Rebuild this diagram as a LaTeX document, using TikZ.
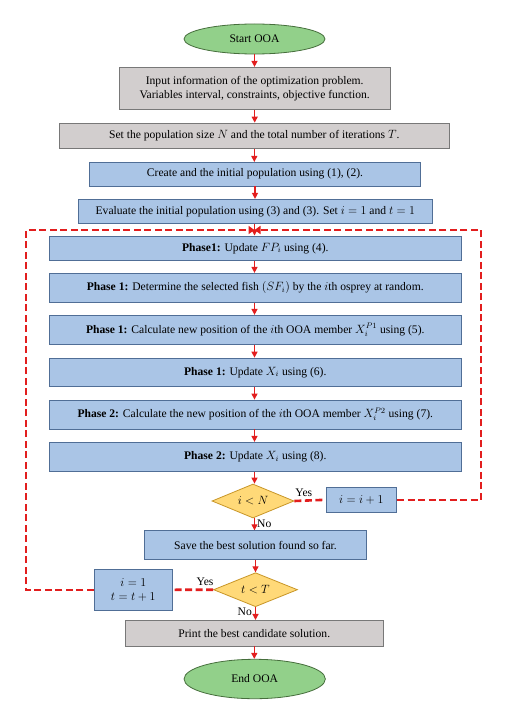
\documentclass[tikz,border=0pt]{standalone}
\usepackage{fontspec}
\setmainfont{Liberation Serif}
\usetikzlibrary{shapes.geometric,arrows.meta}
\definecolor{bfill}{RGB}{170,197,230}
\definecolor{bdraw}{RGB}{80,110,150}
\definecolor{gfill}{RGB}{210,206,206}
\definecolor{gdraw}{RGB}{120,120,120}
\definecolor{grfill}{RGB}{146,208,138}
\definecolor{grdraw}{RGB}{70,110,60}
\definecolor{yfill}{RGB}{255,217,120}
\definecolor{ydraw}{RGB}{200,150,40}
\definecolor{redc}{RGB}{226,30,30}
\tikzset{
  fnt/.style={font=\fontsize{11.6}{13.8}\selectfont},
  box/.style={rectangle,inner sep=0pt,line width=0.8pt,align=center,fnt},
  bluebox/.style={box,fill=bfill,draw=bdraw},
  graybox/.style={box,fill=gfill,draw=gdraw},
  term/.style={ellipse,inner sep=0pt,fill=grfill,draw=grdraw,line width=0.8pt,fnt},
  decide/.style={diamond,inner sep=0pt,aspect=2.4,fill=yfill,draw=ydraw,line width=0.8pt,fnt},
  arr/.style={draw=redc,line width=1.3pt,-{Triangle[length=6pt,width=6pt]}},
  loop/.style={draw=redc,line width=2.6pt,dash pattern=on 7pt off 3.5pt},
  loopar/.style={loop,-{Triangle[length=6pt,width=8pt]}},
  lbl/.style={fnt,inner sep=0pt}
}
\begin{document}
\begin{tikzpicture}[x=1pt,y=-1pt]
\useasboundingbox (0,0) rectangle (504,706);
\node[term,minimum width=141pt,minimum height=30pt] (start) at (254.5,39) {Start OOA};
\node[graybox,minimum width=271pt,minimum height=42pt] (input) at (254.7,88.3) {Input information of the optimization problem.\\Variables interval, constraints, objective function.};
\node[graybox,minimum width=390pt,minimum height=25.7pt] (setp) at (254.3,135.9) {Set the population size $N$ and the total number of iterations $T$.};
\node[bluebox,minimum width=331.4pt,minimum height=23.7pt] (create) at (255,174.2) {Create and the initial population using (1), (2).};
\node[bluebox,minimum width=354.7pt,minimum height=24pt] (eval) at (255.3,211.3) {Evaluate the initial population using (3) and (3). Set $i=1$ and $t=1$};
\node[bluebox,minimum width=412.7pt,minimum height=24.7pt] (p1) at (255.3,248.3) {\textbf{Phase1:} Update $FP_i$ using (4).};
\node[bluebox,minimum width=412.7pt,minimum height=29pt] (p2) at (255.3,287.8) {\textbf{Phase 1:} Determine the selected fish $(SF_i)$ by the $i$th osprey at random.};
\node[bluebox,minimum width=412.7pt,minimum height=29pt] (p3) at (255.3,329.8) {\textbf{Phase 1:} Calculate new position of the $i$th OOA member $X_i^{P1}$ using (5).};
\node[bluebox,minimum width=412.7pt,minimum height=28.3pt] (p4) at (255.3,372.2) {\textbf{Phase 1:} Update $X_i$ using (6).};
\node[bluebox,minimum width=412.7pt,minimum height=29pt] (p5) at (255.3,414.5) {\textbf{Phase 2:} Calculate the new position of the $i$th OOA member $X_i^{P2}$ using (7).};
\node[bluebox,minimum width=412.7pt,minimum height=29.4pt] (p6) at (255.3,457) {\textbf{Phase 2:} Update $X_i$ using (8).};
\node[decide,minimum width=82pt,minimum height=34pt] (dN) at (253,501) {$i<N$};
\node[bluebox,minimum width=70.7pt,minimum height=25pt] (inc) at (361.3,499.8) {$i=i+1$};
\node[bluebox,minimum width=222.4pt,minimum height=28.6pt] (save) at (255.5,545) {Save the best solution found so far.};
\node[decide,minimum width=84pt,minimum height=34pt] (dT) at (255.5,589.7) {$t<T$};
\node[bluebox,minimum width=78pt,minimum height=41pt] (reset) at (133.3,589.8) {$i=1$\\$t=t+1$};
\node[graybox,minimum width=258pt,minimum height=25.7pt] (print) at (254.3,633.2) {Print the best candidate solution.};
\node[term,minimum width=141.3pt,minimum height=39.4pt] (end) at (254.7,679) {End OOA};
\coordinate (J) at (254.5,230);
\coordinate (RT) at (481,230);
\coordinate (LT) at (26,230);
% main flow
\draw[arr] (start.south) -- (start.south |- input.north);
\draw[arr] (input.south) -- (input.south |- setp.north);
\draw[arr] (setp.south) -- (setp.south |- create.north);
\draw[arr] (create.south) -- (create.south |- eval.north);
\draw[arr] (J |- eval.south) -- (J |- p1.north);
\draw[arr] (J |- p1.south) -- (J |- p2.north);
\draw[arr] (J |- p2.south) -- (J |- p3.north);
\draw[arr] (J |- p3.south) -- (J |- p4.north);
\draw[arr] (J |- p4.south) -- (J |- p5.north);
\draw[arr] (J |- p5.south) -- (J |- p6.north);
\draw[arr] (J |- p6.south) -- (J |- dN.north);
\draw[arr] (J |- dN.south) -- node[lbl,right=2pt,pos=0.45] {No} (J |- save.north);
\draw[arr] (dT |- save.south) -- (dT.north);
\draw[arr] (dT.south) -- node[lbl,left=3pt,pos=0.4] {No} (dT.south |- print.north);
\draw[arr] (print.south) -- (print.south |- end.north);
% loops
\draw[loop] (dN.east) -- node[lbl,above=3pt,pos=0.3] {Yes} (inc.west);
\draw[loopar] (inc.east) -- (inc.east -| RT) -- (RT) -- (J);
\draw[loop] (dT.west) -- node[lbl,above=3pt,pos=0.2] {Yes} (reset.east);
\draw[loopar] (reset.west) -- (reset.west -| LT) -- (LT) -- (J);
\end{tikzpicture}
\end{document}
